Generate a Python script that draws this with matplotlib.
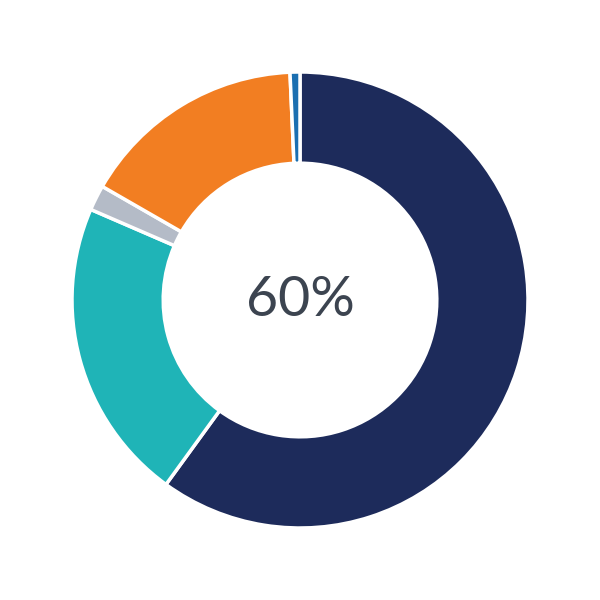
import matplotlib
matplotlib.use('Agg')
import matplotlib.pyplot as plt

# share of each segment, clockwise from 12 o'clock
labels = ['Navy', 'Teal', 'Gray', 'Orange', 'Blue']
values = [60.0, 21.5, 1.8, 16.0, 0.7]
colors = ['#1d2b5b', '#1fb4b7', '#b4bbc7', '#f27e22', '#1b6fb1']
center_text = '60%'

fig = plt.figure(figsize=(6, 6), dpi=100)
ax = fig.add_axes([0, 0, 1, 1])

ax.pie(values, colors=colors, startangle=90, counterclock=False,
       radius=1.0,
       wedgeprops=dict(width=0.4, edgecolor='white', linewidth=2.5))

ax.text(0, 0, center_text, ha='center', va='center', fontsize=40,
        family='Lato', fontweight='normal', color='#3c4450')

lim = 300 / 228.0
ax.set_xlim(-lim, lim)
ax.set_ylim(-lim, lim)
ax.set_aspect('equal')
ax.axis('off')

fig.savefig('out.png', dpi=100, facecolor='white')
